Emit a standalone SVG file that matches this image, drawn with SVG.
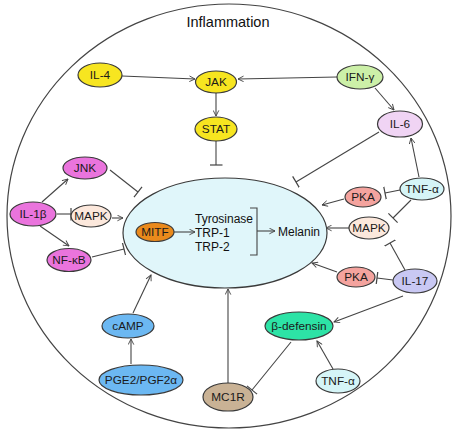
<svg xmlns="http://www.w3.org/2000/svg" width="458" height="434" viewBox="0 0 458 434">
<defs>
<style>
.n{stroke:#3a3a3a;stroke-width:1.2}
.t{font-family:"Liberation Sans",Arial,sans-serif;font-size:11.8px;fill:#1a1a1a;text-anchor:middle;dominant-baseline:central}
.c{fill:none;stroke:#444;stroke-width:1.1}
.a{marker-end:url(#arr)}
.b{marker-end:url(#bar)}
.y{fill:#f7e520}.m{fill:#ea74dd}.mk{fill:#fce8dc}.pk{fill:#f4a39e}.tn{fill:#d5f5f7}.bl{fill:#6cb8f2}
</style>
<marker id="arr" viewBox="0 0 10 10" refX="9" refY="5" markerWidth="7" markerHeight="7" orient="auto" markerUnits="userSpaceOnUse"><path d="M1,1 L9,5 L1,9" fill="none" stroke="#444" stroke-width="1.3"/></marker>
<marker id="bar" viewBox="0 0 4 14" refX="2" refY="7" markerWidth="4" markerHeight="13" orient="auto" markerUnits="userSpaceOnUse"><line x1="2" y1="0" x2="2" y2="14" stroke="#444" stroke-width="1.3"/></marker>
</defs>
<rect width="458" height="434" fill="#fff"/>
<ellipse cx="229" cy="216" rx="222" ry="212" fill="none" stroke="#444" stroke-width="1.2"/>
<text x="228" y="22" font-family="Liberation Sans,Arial,sans-serif" font-size="14.5" fill="#111" text-anchor="middle" dominant-baseline="central">Inflammation</text>

<g id="cell">
<ellipse cx="225" cy="233" rx="102" ry="55" fill="#e0f6fa" stroke="#3a3a3a" stroke-width="1.2"/>
<g font-family="Liberation Sans,Arial,sans-serif" font-size="12" fill="#111">
<text x="195" y="223">Tyrosinase</text>
<text x="195" y="237">TRP-1</text>
<text x="195" y="251">TRP-2</text>
<text x="278" y="236">Melanin</text>
</g>
<path d="M250,208 H257 V255 H250" fill="none" stroke="#444" stroke-width="1.1"/>
</g>
<g id="MITF"><ellipse class="n" cx="155" cy="232" rx="19" ry="9.5" fill="#ea8a1c"/><text class="t" x="155" y="232">MITF</text></g>

<g id="connectors">
<path class="c a" d="M174,232 L195,232"/>
<path class="c a" d="M257,231 L275,231"/>
<path class="c a" d="M122,76 L195,79"/>
<path class="c a" d="M337,77 L238,79"/>
<path class="c a" d="M216,93 L216,116"/>
<path class="c b" d="M216,141 L216,165"/>
<path class="c a" d="M375,88 L394,110"/>
<path class="c b" d="M379,132 L296,182"/>
<path class="c a" d="M419,177 L411,138"/>
<path class="c b" d="M400,190 L385,193"/>
<path class="c a" d="M344,199 L322,205"/>
<path class="c b" d="M411,200 L393,218"/>
<path class="c a" d="M349,228 L326,228"/>
<path class="c b" d="M405,270 L390,243"/>
<path class="c b" d="M393,280 L377,278"/>
<path class="c a" d="M337,272 L312,263"/>
<path class="c a" d="M403,296 L334,322"/>
<path class="c a" d="M333,369 L317,341"/>
<path class="c b" d="M291,342 L252,390"/>
<path class="c a" d="M228,383 L228,289"/>
<path class="c a" d="M133,313 L151,275"/>
<path class="c a" d="M131,364 L131,339"/>
<path class="c a" d="M42,202 L68,179"/>
<path class="c b" d="M57,214 L71,214"/>
<path class="c a" d="M40,226 L69,246"/>
<path class="c b" d="M110,170 L138,192"/>
<path class="c a" d="M112,218 L123,218"/>
<path class="c b" d="M92,257 L124,249"/>
</g>

<g id="IL-4"><ellipse class="n y" cx="100" cy="75" rx="22" ry="12"/><text class="t" x="100" y="75">IL-4</text></g>
<g id="JAK"><ellipse class="n y" cx="216" cy="82" rx="20.5" ry="11"/><text class="t" x="216" y="82">JAK</text></g>
<g id="STAT"><ellipse class="n y" cx="216" cy="129" rx="21" ry="12"/><text class="t" x="216" y="129">STAT</text></g>
<g id="IFN-g"><ellipse class="n" cx="360" cy="77" rx="23" ry="12" fill="#ccf0a8"/><text class="t" x="360" y="77">IFN-γ</text></g>
<g id="IL-6"><ellipse class="n" cx="400" cy="124" rx="22.5" ry="13" fill="#f0d4f4"/><text class="t" x="400" y="124">IL-6</text></g>
<g id="JNK"><ellipse class="n m" cx="85" cy="168" rx="22" ry="11"/><text class="t" x="85" y="168">JNK</text></g>
<g id="IL-1b"><ellipse class="n m" cx="33" cy="214" rx="23" ry="12"/><text class="t" x="33" y="214">IL-1β</text></g>
<g id="MAPK-left"><ellipse class="n mk" cx="91" cy="216" rx="20" ry="11"/><text class="t" x="91" y="216">MAPK</text></g>
<g id="NF-kB"><ellipse class="n m" cx="69" cy="260" rx="22" ry="11.5"/><text class="t" x="69" y="260">NF-κB</text></g>
<g id="PKA-upper"><ellipse class="n pk" cx="363" cy="197" rx="18" ry="10"/><text class="t" x="363" y="197">PKA</text></g>
<g id="TNF-a-right"><ellipse class="n tn" cx="422" cy="189" rx="22" ry="11"/><text class="t" x="422" y="189">TNF-α</text></g>
<g id="MAPK-right"><ellipse class="n mk" cx="369" cy="228" rx="20" ry="11"/><text class="t" x="369" y="228">MAPK</text></g>
<g id="PKA-lower"><ellipse class="n pk" cx="356" cy="277" rx="19" ry="10"/><text class="t" x="356" y="277">PKA</text></g>
<g id="IL-17"><ellipse class="n" cx="415" cy="281" rx="22" ry="12" fill="#c9c8f3"/><text class="t" x="415" y="281">IL-17</text></g>
<g id="b-defensin"><ellipse class="n" cx="299" cy="326" rx="34" ry="14" fill="#2de3a6"/><text class="t" x="299" y="326">β-defensin</text></g>
<g id="TNF-a-lower"><ellipse class="n tn" cx="338" cy="381" rx="22" ry="12"/><text class="t" x="338" y="381">TNF-α</text></g>
<g id="MC1R"><ellipse class="n" cx="228" cy="397" rx="25" ry="14" fill="#c9b295"/><text class="t" x="228" y="397">MC1R</text></g>
<g id="cAMP"><ellipse class="n bl" cx="128" cy="326" rx="26" ry="12"/><text class="t" x="128" y="326">cAMP</text></g>
<g id="PGE2"><ellipse class="n bl" cx="141" cy="380" rx="42" ry="15"/><text class="t" x="141" y="380">PGE2/PGF2α</text></g>
</svg>
